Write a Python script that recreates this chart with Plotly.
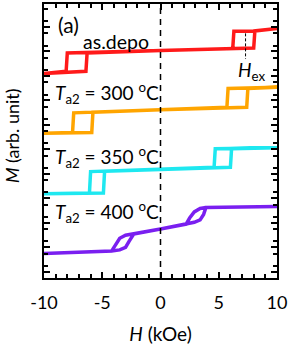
import plotly.graph_objects as go

# H (kOe) and M (arb. unit) for each loop: descending branch then ascending branch
red_H = [10, 8.1, 6.3, 6.2, 0, -8.0, -8.1, -10, -6.4, -6.3, 0, 8.0, 8.1, 10]
red_M = [20.4, 20.2, 20.18, 18.75, 18.6, 18.4, 16.9, 16.72, 16.9, 18.4, 18.6, 18.8, 20.2, 20.4]

orange_H = [10, 5.8, 5.7, 0, -7.45, -7.55, -10, -5.9, -5.8, 0, 7.4, 7.5, 10]
orange_M = [15.6, 15.5, 13.95, 13.76, 13.5, 11.9, 11.84, 11.9, 13.55, 13.76, 13.95, 15.5, 15.6]

cyan_H = [10, 4.7, 4.6, 0, -6.0, -6.1, -10, -4.9, -4.8, 0, 6.0, 6.1, 10]
cyan_M = [10.64, 10.56, 9.05, 8.88, 8.7, 6.95, 6.88, 6.95, 8.72, 8.88, 9.05, 10.56, 10.64]

purple_H = [10, 3.9, 3.4, 2.9, 2.5, 2.2, 0, -2.3, -3.0, -3.5, -3.9, -4.2, -10,
            -4.2, -3.5, -3.0, -2.7, -2.3, 0, 2.2, 2.9, 3.4, 3.7, 3.9, 10]
purple_M = [5.84, 5.76, 5.68, 5.4, 4.9, 4.4, 4.0, 3.6, 3.5, 3.25, 2.7, 2.2, 2.0,
            2.2, 2.3, 2.5, 3.0, 3.6, 4.0, 4.4, 4.55, 4.75, 5.2, 5.76, 5.84]

x_tickvals = [-10, -5, 0, 5, 10]
x_ticktext = ["-10", "-5", "0", "5", "10"]

series = [
    (red_H, red_M, "#ff1a1a"),
    (orange_H, orange_M, "#ffa500"),
    (cyan_H, cyan_M, "#1ee8f0"),
    (purple_H, purple_M, "#7a1ff0"),
]

labels = [
    ("<i>T</i><sub>a2</sub> = 300 <sup>o</sup>C", 15.12),
    ("<i>T</i><sub>a2</sub> = 350 <sup>o</sup>C", 9.92),
    ("<i>T</i><sub>a2</sub> = 400 <sup>o</sup>C", 5.36),
]

FONT = "Lato"
fig = go.Figure()
for h, m, c in series:
    fig.add_trace(go.Scatter(x=h, y=m, mode="lines",
                             line=dict(color=c, width=3.5), showlegend=False))

# vertical dashed line at H = 0
fig.add_shape(type="line", xref="x", yref="paper", x0=0, x1=0, y0=0, y1=1,
              line=dict(color="black", width=1.5, dash="6px,5px"))
# H_ex marker
fig.add_shape(type="line", xref="x", yref="y", x0=7.3, x1=7.3, y0=20.0, y1=17.9,
              line=dict(color="black", width=1, dash="3px,2px"))

annots = [
    dict(x=-8.95, y=20.7, text="(a)", xanchor="left", font=dict(size=21)),
    dict(x=-6.85, y=19.3, text="as.depo", xanchor="left", font=dict(size=19.5)),
    dict(x=6.45, y=16.95, text="<i>H</i><sub>ex</sub>", xanchor="left", font=dict(size=19)),
]
for t, y in labels:
    annots.append(dict(x=-9.25, y=y, text=t, xanchor="left", font=dict(size=19)))
for a in annots:
    a.update(xref="x", yref="y", showarrow=False, yanchor="middle")
    a["font"].update(family=FONT, color="black")
    fig.add_annotation(**a)

fig.add_annotation(xref="paper", yref="paper", x=(12 - 44) / 233, y=(282 - 137) / 280,
                   text="<i>M</i> (arb. unit)", textangle=-90, showarrow=False,
                   font=dict(family=FONT, size=18, color="black"),
                   xanchor="center", yanchor="middle")

fig.update_layout(
    width=289, height=345,
    margin=dict(l=44, r=12, t=2, b=63),
    paper_bgcolor="white", plot_bgcolor="white",
    font=dict(family=FONT, size=17, color="black"),
)
fig.update_xaxes(
    range=[-10, 10], tickvals=x_tickvals, ticktext=x_ticktext,
    ticks="inside", ticklen=6, tickwidth=1.5, ticklabelstandoff=8,
    tickcolor="black", showline=True, linecolor="black", linewidth=1.5,
    mirror="allticks", showgrid=False, zeroline=False,
    minor=dict(dtick=1, tick0=0, ticks="inside", ticklen=4, tickwidth=1.5, tickcolor="black", showgrid=False),
    title=dict(text="<i>H</i> (kOe)", font=dict(family=FONT, size=19), standoff=16),
    tickfont=dict(family=FONT, size=18),
)
fig.update_yaxes(
    range=[0, 22.4], tick0=0.52, dtick=2, ticks="inside", ticklen=6, tickwidth=1.5,
    tickcolor="black", showline=True, linecolor="black", linewidth=1.5,
    mirror="allticks", showgrid=False, zeroline=False, showticklabels=False,
    minor=dict(dtick=1, ticks="inside", ticklen=4, tickwidth=1.5, tickcolor="black", showgrid=False),
)

fig.write_html("out.html", config={"displayModeBar": False},
               post_script="document.body.style.margin='0';document.body.style.padding='0';")
